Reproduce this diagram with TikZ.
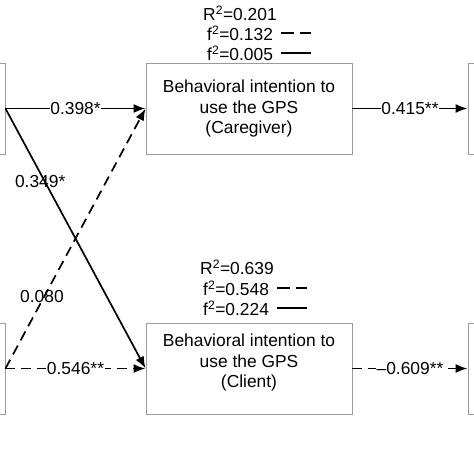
\documentclass[tikz,border=0pt]{standalone}
\usepackage{fontspec}
\setmainfont{Liberation Sans}
\usepackage{xcolor}
\usetikzlibrary{positioning, arrows.meta}
\definecolor{boxgray}{HTML}{9A9A9A}

\begin{document}
\begin{tikzpicture}[
  x=1pt, y=-1pt,
  every node/.style={inner sep=1pt},
  font=\fontsize{17.4}{20.5}\selectfont,
  box/.style={draw=boxgray, line width=0.9pt, minimum width=206pt, minimum height=91pt, align=center, inner sep=0pt},
  coef/.style={fill=white, inner sep=0.5pt},
  link/.style={-{Latex[length=12pt, width=9pt]}, line width=1.7pt},
  dlink/.style={link, dash pattern=on 10pt off 6pt},
  stat/.style={anchor=west, inner sep=0pt}
]
\useasboundingbox (0,0) rectangle (474,474);
\clip (0,0) rectangle (474,474);

% Mediators
\node[box] (cg) at (249,108.5) {Behavioral intention to\\use the GPS\\(Caregiver)};
\node[box, text depth=15pt] (cl) at (249,368.5) {Behavioral intention to\\use the GPS\\(Client)};

% Boxes cut off at the edges
\node[box, minimum width=100pt] (srcA) at (-45,108.5) {};
\node[box, minimum width=100pt] (srcB) at (-45,368.5) {};
\node[box, minimum width=100pt] (outA) at (518,108.5) {};
\node[box, minimum width=100pt] (outB) at (518,368.5) {};

% Paths
\draw[link] (srcA.east) -- node[coef] {0.398*} (cg.west);
\draw[link] (cg.east) -- node[coef] {0.415**} (outA.west);
\draw[dlink] (srcB.east) -- node[coef] {0.546**} (cl.west);
\draw[dlink] (cl.east) -- node[coef] {--0.609**} (outB.west);
\draw[link] (srcA.east) -- node[pos=0.28, xshift=-4.5pt] {0.349*} (cl.west);
\draw[dlink] (srcB.east) -- node[pos=0.275, xshift=-2pt] {0.080} (cg.west);

% Effect sizes
\node[stat] (r2a) at (203,13) {R\textsuperscript{2}=0.201};
\node[stat] (f2a) at (207,33) {f\textsuperscript{2}=0.132};
\node[stat] (f2b) at (207,53) {f\textsuperscript{2}=0.005};
\draw[line width=1.6pt, dash pattern=on 13pt off 6pt] ([xshift=8pt]f2a.east) -- ++(30,0);
\draw[line width=1.6pt] ([xshift=8pt]f2b.east) -- ++(30,0);

\node[stat] (r2b) at (200,267) {R\textsuperscript{2}=0.639};
\node[stat] (f2c) at (203,288) {f\textsuperscript{2}=0.548};
\node[stat] (f2d) at (203,308) {f\textsuperscript{2}=0.224};
\draw[line width=1.6pt, dash pattern=on 13pt off 6pt] ([xshift=8pt]f2c.east) -- ++(30,0);
\draw[line width=1.6pt] ([xshift=8pt]f2d.east) -- ++(30,0);

\end{tikzpicture}
\end{document}
